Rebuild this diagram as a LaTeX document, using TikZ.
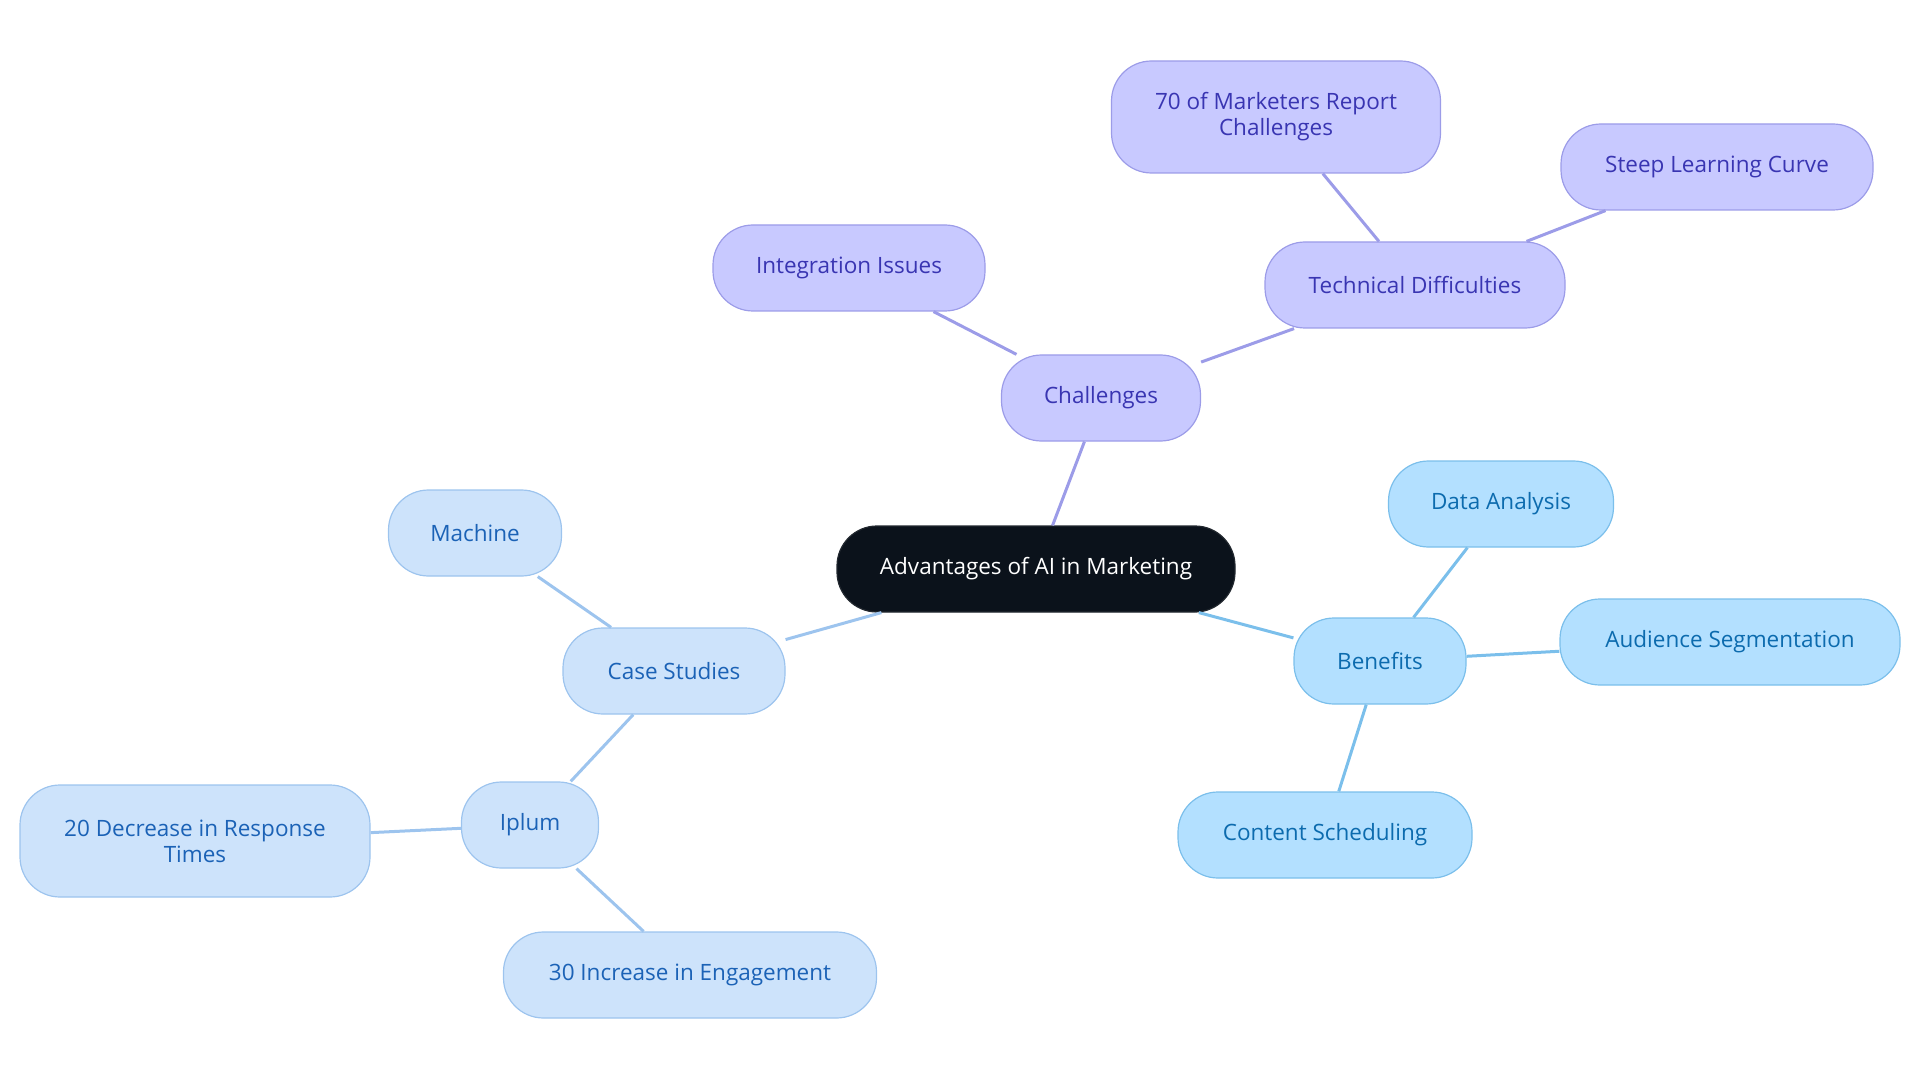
\documentclass[tikz,border=0pt]{standalone}
\usepackage{fontspec}
\setmainfont{Open Sans}
\usetikzlibrary{positioning}

\definecolor{rootfill}{HTML}{0B121B}
\definecolor{chfill}{HTML}{C8C9FF}
\definecolor{chline}{HTML}{9C9CE8}
\definecolor{chtext}{HTML}{3935B2}
\definecolor{befill}{HTML}{B3E0FF}
\definecolor{beline}{HTML}{7BBFEB}
\definecolor{betext}{HTML}{0C6BAE}
\definecolor{csfill}{HTML}{CDE3FB}
\definecolor{csline}{HTML}{9DC4EE}
\definecolor{cstext}{HTML}{1B62B6}

\tikzset{
  topic/.style={rectangle, rounded corners=40pt, minimum height=86pt, line width=1.2pt,
    font=\fontsize{22.5}{26}\selectfont, align=center, inner xsep=18pt},
  rootnode/.style={topic, fill=rootfill, draw=rootfill!80!gray, text=white},
  chnode/.style={topic, fill=chfill, draw=chline, text=chtext},
  benode/.style={topic, fill=befill, draw=beline, text=betext},
  csnode/.style={topic, fill=csfill, draw=csline, text=cstext},
  chlink/.style={draw=chline, line width=3pt},
  belink/.style={draw=beline, line width=3pt},
  cslink/.style={draw=csline, line width=3pt}
}

\begin{document}
\begin{tikzpicture}[x=1pt, y=-1pt]
            \useasboundingbox (0,0) rectangle (1920,1083);

            \node[rootnode, minimum width=398pt] (root) at (1036,569) {Advantages of AI in Marketing};

            % challenges
            \node[chnode, minimum width=199pt] (chall) at (1101,398) {Challenges};
            \node[chnode, minimum width=272pt] (integ) at (849,268) {Integration Issues};
            \node[chnode, minimum width=300pt] (techn) at (1415,285) {Technical Difficulties};
            \node[chnode, minimum width=329pt, minimum height=112pt] (marke) at (1276,117) {70 of Marketers Report\\Challenges};
            \node[chnode, minimum width=312pt] (steep) at (1717,167) {Steep Learning Curve};

            % benefits
            \node[benode, minimum width=172pt] (benef) at (1380,661) {Benefits};
            \node[benode, minimum width=225pt] (dataa) at (1501,504) {Data Analysis};
            \node[benode, minimum width=340pt] (audie) at (1730,642) {Audience Segmentation};
            \node[benode, minimum width=294pt] (conte) at (1325,835) {Content Scheduling};

            % case studies
            \node[csnode, minimum width=222pt] (cases) at (674,671) {Case Studies};
            \node[csnode, minimum width=173pt] (machi) at (475,533) {Machine};
            \node[csnode, minimum width=137pt] (iplum) at (530,825) {Iplum};
            \node[csnode, minimum width=350pt, minimum height=112pt] (decre) at (195,841) {20 Decrease in Response\\Times};
            \node[csnode, minimum width=373pt] (incre) at (690,975) {30 Increase in Engagement};

            \draw[chlink] (root) -- (chall) (chall) -- (integ) (chall) -- (techn) (techn) -- (marke) (techn) -- (steep);
            \draw[belink] (root) -- (benef) (benef) -- (dataa) (benef) -- (audie) (benef) -- (conte);
            \draw[cslink] (root) -- (cases) (cases) -- (machi) (cases) -- (iplum) (iplum) -- (decre) (iplum) -- (incre);

        \end{tikzpicture}
\end{document}
